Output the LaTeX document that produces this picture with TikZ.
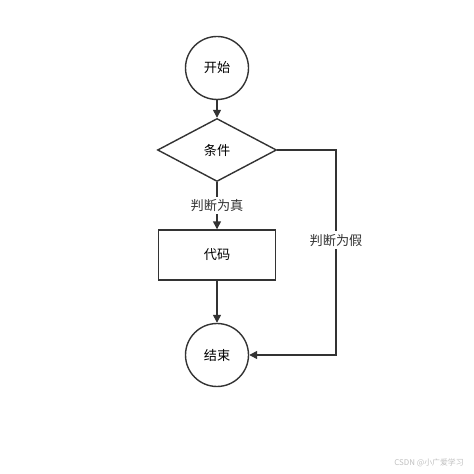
\documentclass[tikz,border=0pt]{standalone}
\usepackage{fontspec}
\setmainfont{Noto Sans CJK SC}
\usetikzlibrary{arrows.meta,shapes.geometric}

\begin{document}
\begin{tikzpicture}[
  font=\fontsize{7.5}{9}\selectfont,
  >={Triangle[length=4.5pt,width=4.5pt]},
  terminal/.style={circle, draw=black!80, line width=0.8pt, minimum size=1.26cm, inner sep=0pt},
  decision/.style={diamond, draw=black!80, line width=0.8pt, minimum width=2.38cm, minimum height=1.26cm, inner sep=0pt},
  process/.style={rectangle, draw=black!80, line width=0.8pt, minimum width=2.34cm, minimum height=1.0cm},
  flow/.style={->, draw=black!80, line width=0.8pt},
  cond/.style={fill=white, inner sep=1.5pt, text=black!80}
]
\useasboundingbox (0,0) rectangle (9.48,9.48);

% Main column.
\node[terminal] (start) at (4.34,8.12) {开始};
\node[decision] (check) at (4.34,6.48) {条件};
\node[process] (code) at (4.34,4.38) {代码};
\node[terminal] (stop) at (4.34,2.38) {结束};

\draw[flow] (start) -- (check);
\draw[flow] (check.south) -- node[cond] {判断为真} (code.north);
\draw[flow] (code) -- (stop);

% False branch on the right.
\coordinate (turn) at (6.72,6.48);
\draw[flow] (check.east) -- (turn) |- node[cond, pos=0.22] {判断为假} (stop.east);

% Watermark.
\node[anchor=east, text=black!25, font=\fontsize{4.5}{5}\selectfont] (mark) at (9.4,0.22) {CSDN @小广爱学习};

\end{tikzpicture}
\end{document}
